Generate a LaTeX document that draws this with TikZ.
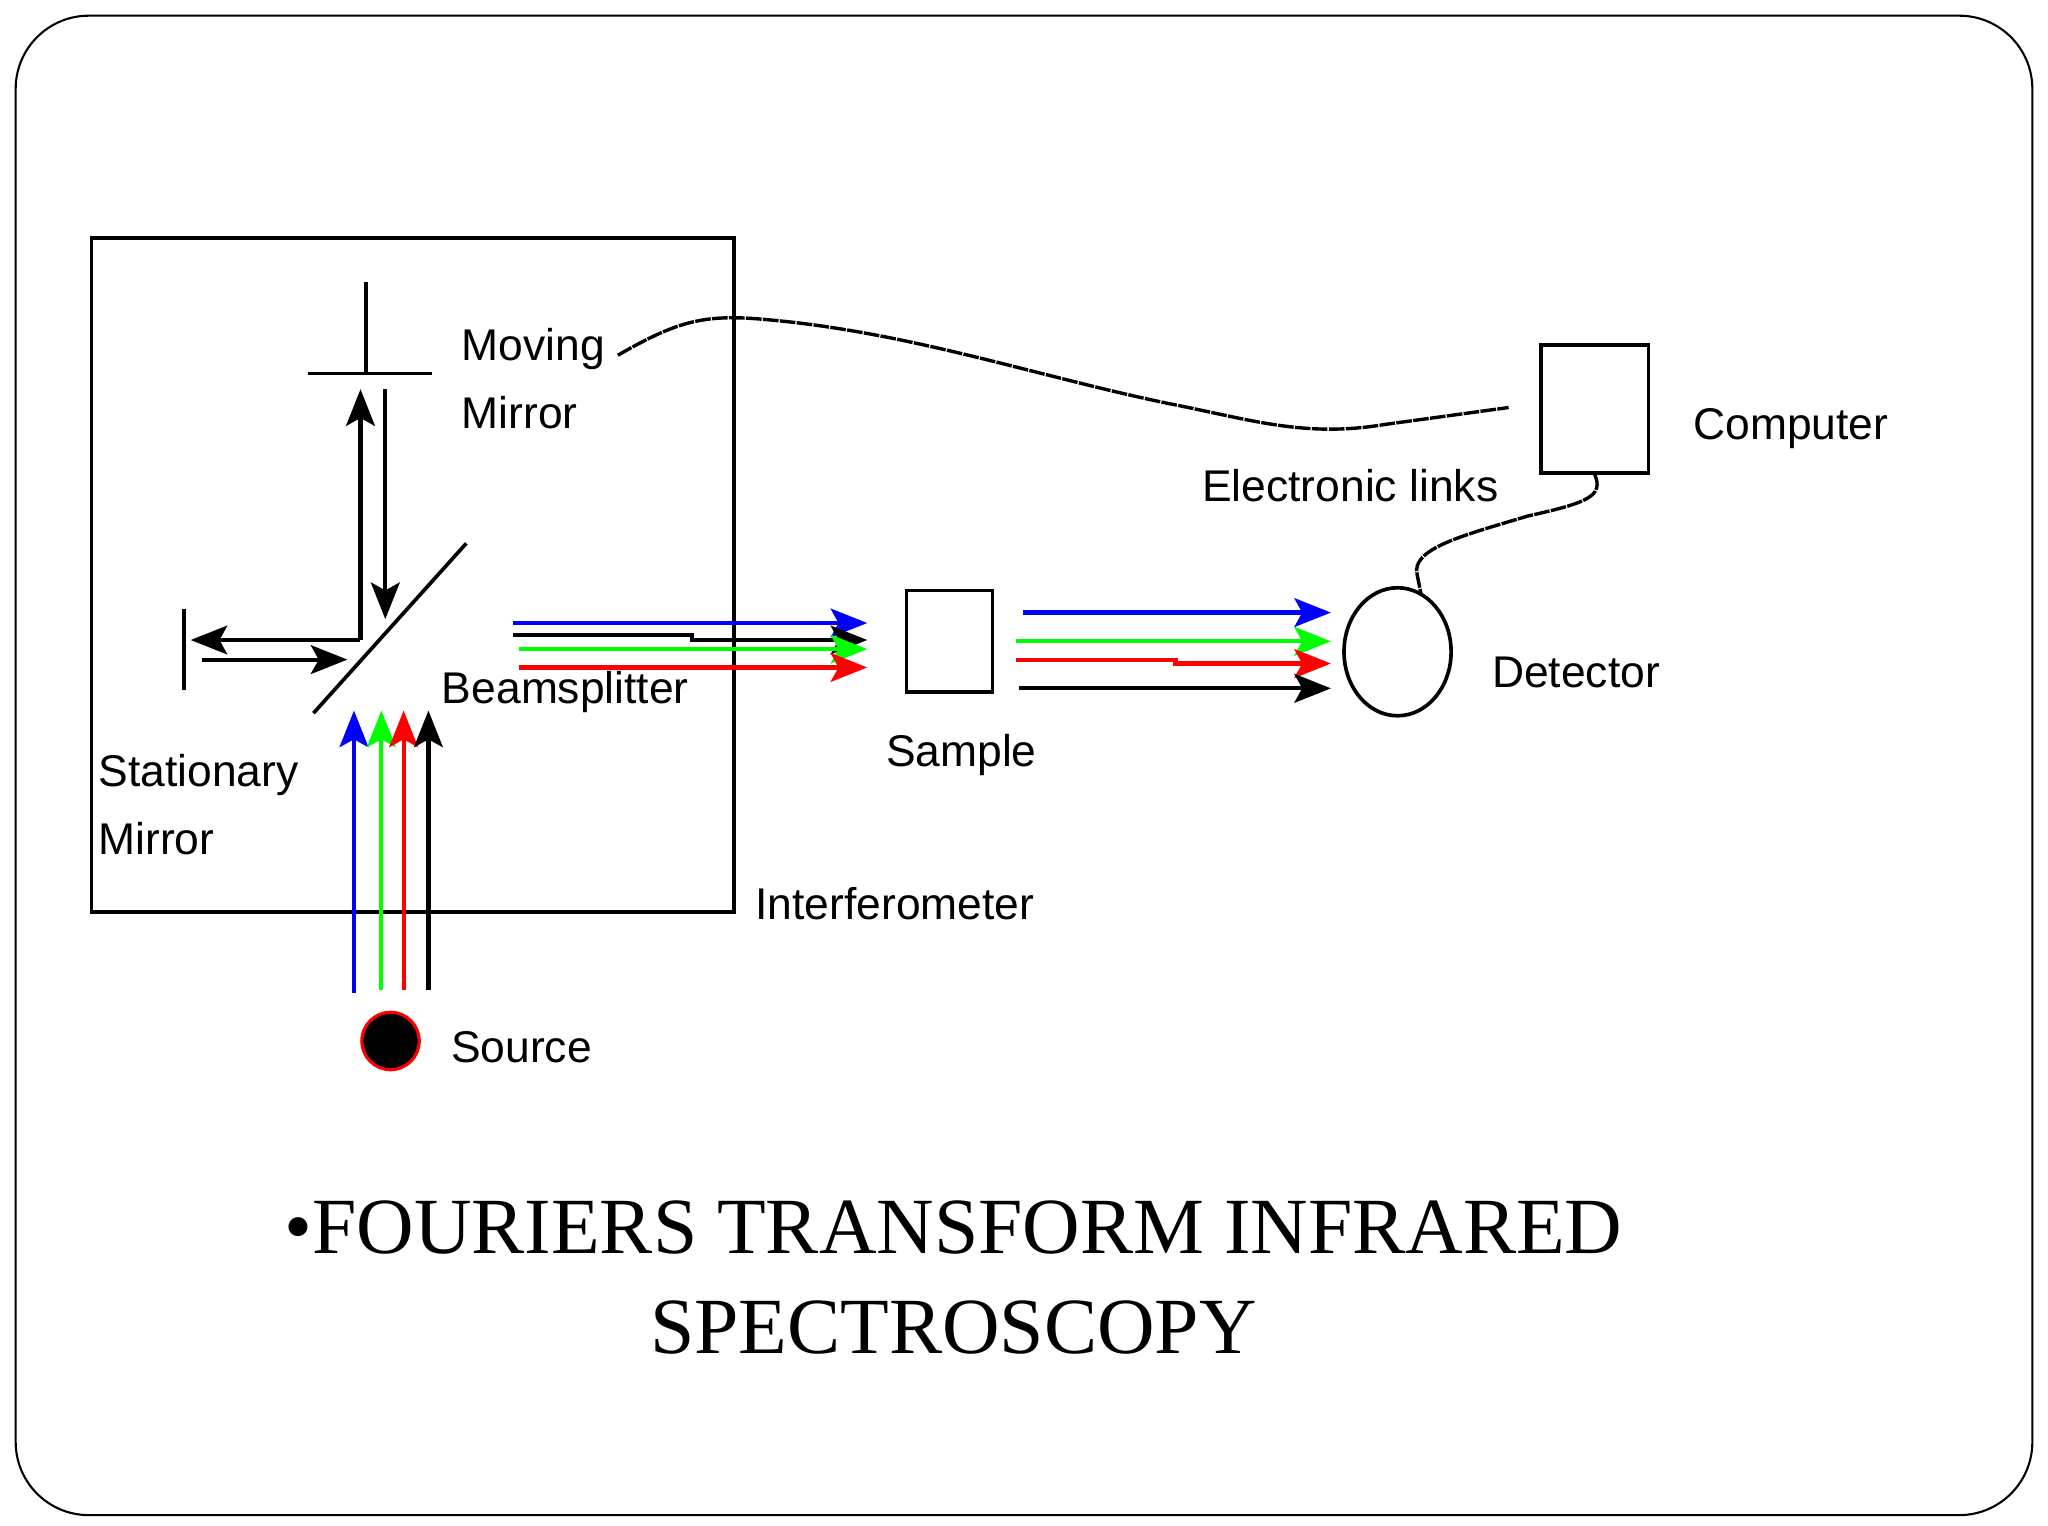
\documentclass[tikz,border=0pt]{standalone}
\usepackage{fontspec}
\setmainfont{Liberation Serif}
\newfontfamily\lab{Liberation Sans}
\usetikzlibrary{arrows.meta}
\begin{document}
\begin{tikzpicture}[x=0.5pt,y=-0.5pt,
  beam/.style={line width=1.6pt,-{Stealth[length=14pt,width=11pt,inset=3pt]}},
  ln/.style={line width=1.4pt},
  lbl/.style={font=\lab\fontsize{17}{20}\selectfont,anchor=west,inner sep=0pt},
  wire/.style={line width=1.3pt,dashed,dash pattern=on 6pt off 0.5pt}]
\useasboundingbox (0,0) rectangle (1568,1168);
\draw[line width=0.8pt,rounded corners=28pt] (12,12) rectangle (1556,1160);
% interferometer
\draw[ln] (70,182) rectangle (562,698);
\node[lbl] (intf) at (578,692) {Interferometer};
% moving mirror
\coordinate (mm) at (280,286);
\draw[ln] (236,286) -- (331,286);
\draw[ln] (280,216) -- (mm);
\node[lbl,align=left] (mml) at (353,290) {Moving\\[6pt]Mirror};
% beamsplitter
\draw[ln] (240,546) -- (357,416);
\node[lbl] (bsl) at (338,530) {Beamsplitter};
% stationary mirror
\draw[ln] (141,466) -- (141,528);
\node[lbl,align=left] (sml) at (75,616) {Stationary\\[6pt]Mirror};
% internal beams
\draw[beam] (276,490) -- (276,298);
\draw[beam] (295,298) -- (295,474);
\draw[beam] (276,490) -- (146,490);
\draw[beam] (155,505) -- (266,505);
% source
\node[circle,fill=black,draw=red,line width=1.2pt,minimum size=44pt*0.5] (src) at (299,797) {};
\node[lbl] (srcl) at (345,802) {Source};
\draw[beam,blue] (271,760) -- (271,544);
\draw[beam,green] (292,758) -- (292,544);
\draw[beam,red] (309,758) -- (309,544);
\draw[beam,black] (328,758) -- (328,544);
% out beams
\draw[beam,blue] (393,477) -- (664,477);
\draw[beam,black] (393,486) -- (530,486) -- (530,490) -- (664,490);
\draw[beam,green] (397,497) -- (664,497);
\draw[beam,red] (397,511) -- (664,511);
% sample
\node[draw,ln,minimum width=33pt,minimum height=39pt,inner sep=0pt] (samp) at (727,491) {};
\node[lbl] (sampl) at (678,578) {Sample};
\draw[beam,blue] (783,469) -- (1019,469);
\draw[beam,green] (778,491) -- (1019,491);
\draw[beam,red] (778,505) -- (900,505) -- (900,508) -- (1019,508);
\draw[beam,black] (780,527) -- (1019,527);
% detector
\draw[ln] (1070,499) ellipse [x radius=41,y radius=49];
\coordinate (dtop) at (1088,455);
\node[lbl] (detl) at (1142,515) {Detector};
% computer
\node[draw,ln,minimum width=41pt,minimum height=49pt,inner sep=0pt] (comp) at (1221,313) {};
\node[lbl] (compl) at (1296,328) {Computer};
\node[lbl] (ell) at (920,372) {Electronic links};
% wires
\coordinate (w0) at (473,272);
\coordinate (w1) at (1155,312);
\draw[wire] (w0) .. controls (520,245) and (540,240) .. (590,245)
  .. controls (700,255) and (800,290) .. (900,310)
  .. controls (960,322) and (1000,335) .. (1060,325) -- (w1);
\draw[wire] (comp.south) .. controls (1228,380) and (1215,385) .. (1170,395)
  .. controls (1120,410) and (1080,420) .. (1085,440) -- (dtop);
% title
\node[font=\fontsize{30.5}{36}\selectfont,align=center,inner sep=0pt] (title) at (730,978)
  {\textbullet FOURIERS TRANSFORM INFRARED\\[2pt]SPECTROSCOPY};
\end{tikzpicture}
\end{document}
